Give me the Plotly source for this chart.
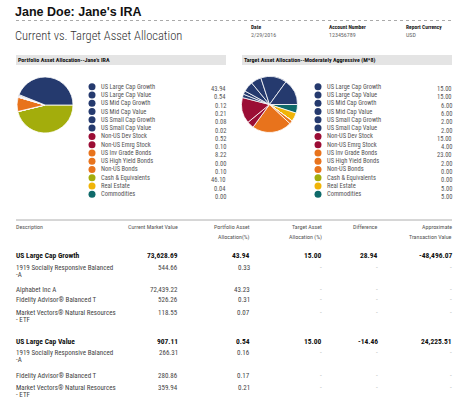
import plotly.graph_objects as go

# ---------------- data ----------------
asset_classes = ["US Large Cap Growth", "US Large Cap Value", "US Mid Cap Growth", "US Mid Cap Value",
                 "US Small Cap Growth", "US Small Cap Value", "Non-US Dev Stock", "Non-US Emrg Stock",
                 "US Inv Grade Bonds", "US High Yield Bonds", "Non-US Bonds", "Cash & Equivalents",
                 "Real Estate", "Commodities"]
portfolio_pct = [43.94, 0.54, 0.12, 0.21, 0.08, 0.02, 0.52, 0.10, 8.22, 0.00, 0.10, 46.10, 0.04, 0.00]
target_pct = [15.00, 15.00, 6.00, 6.00, 2.00, 2.00, 15.00, 4.00, 23.00, 2.00, 0.00, 0.00, 5.00, 5.00]

NAVY, RED, ORANGE, OLIVE, YELLOW, TEAL = "#253a6e", "#9b0d35", "#e8731c", "#a3ad0c", "#f0b408", "#0f6a6a"
class_colors = [NAVY] * 6 + [RED] * 2 + [ORANGE] * 3 + [OLIVE, YELLOW, TEAL]

header_cols = ["Description", "Current Market Value", "Portfolio Asset\nAllocation(%)",
               "Target Asset\nAllocation (%)", "Difference", "Approximate\nTransaction Value"]

row_desc = ["US Large Cap Growth", "1919 Socially Responsive Balanced\n-A", "Alphabet Inc A",
            "Fidelity Advisor® Balanced T", "Market Vectors® Natural Resources\n- ETF",
            "US Large Cap Value", "1919 Socially Responsive Balanced\n-A",
            "Fidelity Advisor® Balanced T", "Market Vectors® Natural Resources\n- ETF"]
row_bold = [True, False, False, False, False, True, False, False, False]
row_market_value = ["73,628.69", "544.66", "72,439.22", "526.26", "118.55",
                    "907.11", "266.31", "280.86", "359.94"]
row_alloc = ["43.94", "0.33", "43.23", "0.31", "0.07", "0.54", "0.16", "0.17", "0.21"]
row_target = ["15.00", "-", "-", "-", "-", "15.00", "-", "-", "-"]
row_diff = ["28.94", "-", "-", "-", "-", "-14.46", "-", "-", "-"]
row_txn = ["-48,496.07", "-", "-", "-", "-", "24,225.51", "-", "-", "-"]

# ---------------- layout constants ----------------
W, H = 474, 402
NARROW = "Roboto Condensed, DejaVu Sans Condensed, sans-serif"


def px(x):
    return x / W


def py(y):
    return 1 - y / H


annotations = []
shapes = []


def text(x, y, s, size=7, color="#444", anchor="left", weight="normal", family=NARROW):
    annotations.append(dict(
        x=px(x), y=py(y), xref="paper", yref="paper", text=s,
        showarrow=False, xanchor=anchor, yanchor="middle",
        font=dict(family=family, size=size, color=color, weight=weight), borderpad=0, borderwidth=0))


fig = go.Figure()

# pies: slices run counter-clockwise from 3 o'clock in legend order,
# i.e. clockwise from 3 o'clock in reversed order
pie_r = 28
for cx, cy, vals in [(45, 105, portfolio_pct), (269.5, 104.5, target_pct)]:
    fig.add_trace(go.Pie(
        labels=asset_classes[::-1], values=vals[::-1], sort=False, direction="clockwise", rotation=90,
        marker=dict(colors=class_colors[::-1], line=dict(color="white", width=0.8)),
        textinfo="none", hoverinfo="label+value", showlegend=False,
        domain=dict(x=[px(cx - pie_r), px(cx + pie_r)], y=[py(cy + pie_r), py(cy - pie_r)])))

# legend dots (scatter on pixel-aligned axes)
leg_y0, leg_dy = 86.7, 8.28
for dot_x, lab_x, val_x, vals in [(92, 101, 226, portfolio_pct), (318, 327, 452, target_pct)]:
    ys = [leg_y0 + i * leg_dy for i in range(len(asset_classes))]
    fig.add_trace(go.Scatter(
        x=[dot_x] * len(ys), y=ys, mode="markers", showlegend=False, hoverinfo="skip",
        marker=dict(size=7, color=class_colors, line=dict(width=0))))
    for i, (lab, v) in enumerate(zip(asset_classes, vals)):
        text(lab_x, ys[i], lab, size=6.5, color="#555")
        text(val_x, ys[i] + 2.5, "%.2f" % v, size=6.5, color="#555", anchor="right")

# title block
text(15, 12, "Jane Doe: Jane's IRA", size=12.5, color="#111", weight="bold",
     family="Liberation Sans, Arial, sans-serif")
shapes.append(dict(type="line", xref="paper", yref="paper", x0=px(16), x1=px(452), y0=py(20.5), y1=py(20.5),
                   line=dict(color="#aaa", width=1, dash="dot")))
text(15, 35, "Current vs. Target Asset Allocation", size=12.5, color="#333", weight=300)
for x, lab, val in [(250.5, "Date", "2/29/2016"), (329, "Account Number", "123456789"),
                    (406, "Report Currency", "USD")]:
    text(x, 26.5, lab, size=5.5, color="#222", weight="bold")
    text(x, 34.5, val, size=6, color="#666")

# section header bars
for x0, x1, title in [(16, 226, "Portfolio Asset Allocation--Jane's IRA"),
                      (242, 452, "Target Asset Allocation--Moderately Aggressive (M*8)")]:
    shapes.append(dict(type="rect", xref="paper", yref="paper", x0=px(x0), x1=px(x1), y0=py(65), y1=py(55),
                       fillcolor="#e4e4e4", line=dict(width=0), layer="below"))
    text(x0 + 1.5, 60, title, size=6, color="#111", weight="bold")

# table
shapes.append(dict(type="line", xref="paper", yref="paper", x0=px(16), x1=px(452), y0=py(220), y1=py(220),
                   line=dict(color="#999", width=0.8)))
col_x = [16, 178, 250, 322, 378, 452]
for j, h in enumerate(header_cols):
    for k, line in enumerate(h.split("\n")):
        text(col_x[j], 226.7 + k * 10, line, size=6, color="#555", anchor="left" if j == 0 else "right")

row_y = [255.7, 268.3, 290, 300, 313.3, 341.7, 353.3, 375.7, 387.7]
for i, desc in enumerate(row_desc):
    y = row_y[i]
    b = row_bold[i]
    sz = 7.5 if b else 7
    col = "#111" if b else "#444"
    w = "bold" if b else "normal"
    for k, line in enumerate(desc.split("\n")):
        text(16, y + k * 7, line, size=sz, color=col, weight=w)
    vals = [row_market_value[i], row_alloc[i], row_target[i], row_diff[i], row_txn[i]]
    for j, v in enumerate(vals):
        c = "#bbb" if v == "-" else col
        text(col_x[j + 1], y, v, size=sz, color=c, weight=w, anchor="right")

fig.update_layout(
    width=W, height=H, margin=dict(l=0, r=0, t=0, b=0),
    paper_bgcolor="white", plot_bgcolor="rgba(0,0,0,0)",
    xaxis=dict(range=[0, W], visible=False, domain=[0, 1], fixedrange=True),
    yaxis=dict(range=[H, 0], visible=False, domain=[0, 1], fixedrange=True),
    annotations=annotations, shapes=shapes, showlegend=False)

fig.write_html("out.html", config={"displayModeBar": False})
